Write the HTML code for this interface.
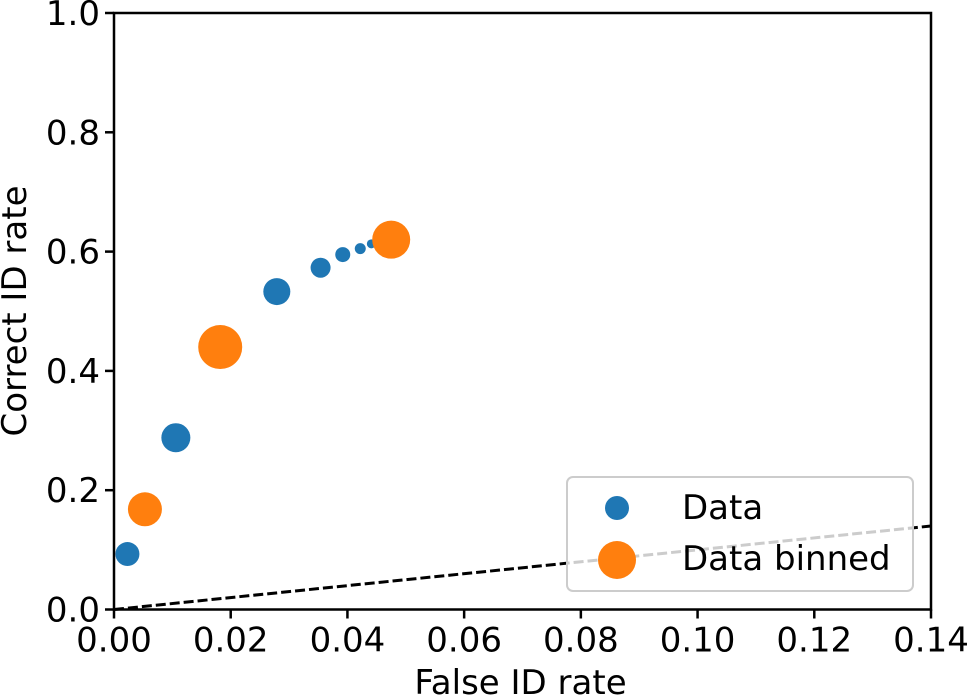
<!DOCTYPE html>
<html><head><meta charset="utf-8"><style>
html,body{margin:0;padding:0;background:#fff;}
svg{display:block;font-family:"DejaVu Sans","Liberation Sans",sans-serif;}
</style></head><body>
<svg id="chart" width="969" height="696">
<g id="plot"></g>
</svg>
<script>
const xTicks=[0,0.02,0.04,0.06,0.08,0.10,0.12,0.14];
const xTickLabels=["0.00","0.02","0.04","0.06","0.08","0.10","0.12","0.14"];
const yTicks=[0,0.2,0.4,0.6,0.8,1.0];
const yTickLabels=["0.0","0.2","0.4","0.6","0.8","1.0"];
const dataX=[0.0023,0.0106,0.0279,0.0354,0.0392,0.0422,0.0441];
const dataY=[0.093,0.288,0.533,0.573,0.595,0.605,0.613];
const dataR=[12,14.5,13.5,10,7.5,5.5,4.5];
const binX=[0.0053,0.0182,0.0475];
const binY=[0.168,0.440,0.620];
const binR=[17,22,19];
const refX=[0,0.14];
const refY=[0,0.14];

const L=114,R=931,T=13,B=609.5;
const sx=v=>L+(v/0.14)*(R-L);
const sy=v=>B-(v/1.0)*(B-T);
const NS="http://www.w3.org/2000/svg";
const g=document.getElementById('plot');
function mk(tag,attrs,parent){const e=document.createElementNS(NS,tag);for(const k in attrs)e.setAttribute(k,attrs[k]);(parent||g).appendChild(e);return e;}

const ref=mk('line',{x1:sx(refX[0]),y1:sy(refY[0]),x2:sx(refX[1]),y2:sy(refY[1]),stroke:'#000','stroke-width':3,'stroke-dasharray':'10,4'});



dataX.forEach((x,i)=>{
  const c=mk('circle',{cx:sx(x),cy:sy(dataY[i]),r:dataR[i],fill:'#1f77b4'});
  
  
});
binX.forEach((x,i)=>{
  const c=mk('circle',{cx:sx(x),cy:sy(binY[i]),r:binR[i],fill:'#ff7f0e'});
  
  
});

const fr=mk('rect',{x:L,y:T,width:R-L,height:B-T,fill:'none',stroke:'#000','stroke-width':2.5});



xTicks.forEach((v,i)=>{
  const x=sx(v);
  mk('line',{x1:x,y1:B,x2:x,y2:B+9,stroke:'#000','stroke-width':2.5});
  const t=mk('text',{x:x,y:B+42,'text-anchor':'middle','font-size':34,fill:'#000'});
  t.textContent=xTickLabels[i];
  
  
});
yTicks.forEach((v,i)=>{
  const y=sy(v);
  mk('line',{x1:L-9,y1:y,x2:L,y2:y,stroke:'#000','stroke-width':2.5});
  const t=mk('text',{x:L-14,y:y+12,'text-anchor':'end','font-size':34,fill:'#000'});
  t.textContent=yTickLabels[i];
  
  
});

const xl=mk('text',{x:(L+R)/2-2,y:694,'text-anchor':'middle','font-size':34,fill:'#000'});
xl.textContent='False ID rate';


const yl=mk('text',{x:0,y:0,'text-anchor':'middle','font-size':34,fill:'#000',transform:'translate(26,311) rotate(-90)'});
yl.textContent='Correct ID rate';



const lg=mk('g',{});


mk('rect',{x:567,y:477,width:346,height:114,rx:6,fill:'#fff','fill-opacity':0.8,stroke:'#ccc','stroke-width':2},lg);
const m1=mk('circle',{cx:617,cy:508,r:12,fill:'#1f77b4'},lg);


const t1=mk('text',{x:682,y:519,'font-size':34,fill:'#000'},lg);
t1.textContent='Data';


const m2=mk('circle',{cx:617,cy:560,r:19,fill:'#ff7f0e'},lg);


const t2=mk('text',{x:682,y:570,'font-size':34,fill:'#000'},lg);
t2.textContent='Data binned';


</script>
</body></html>
